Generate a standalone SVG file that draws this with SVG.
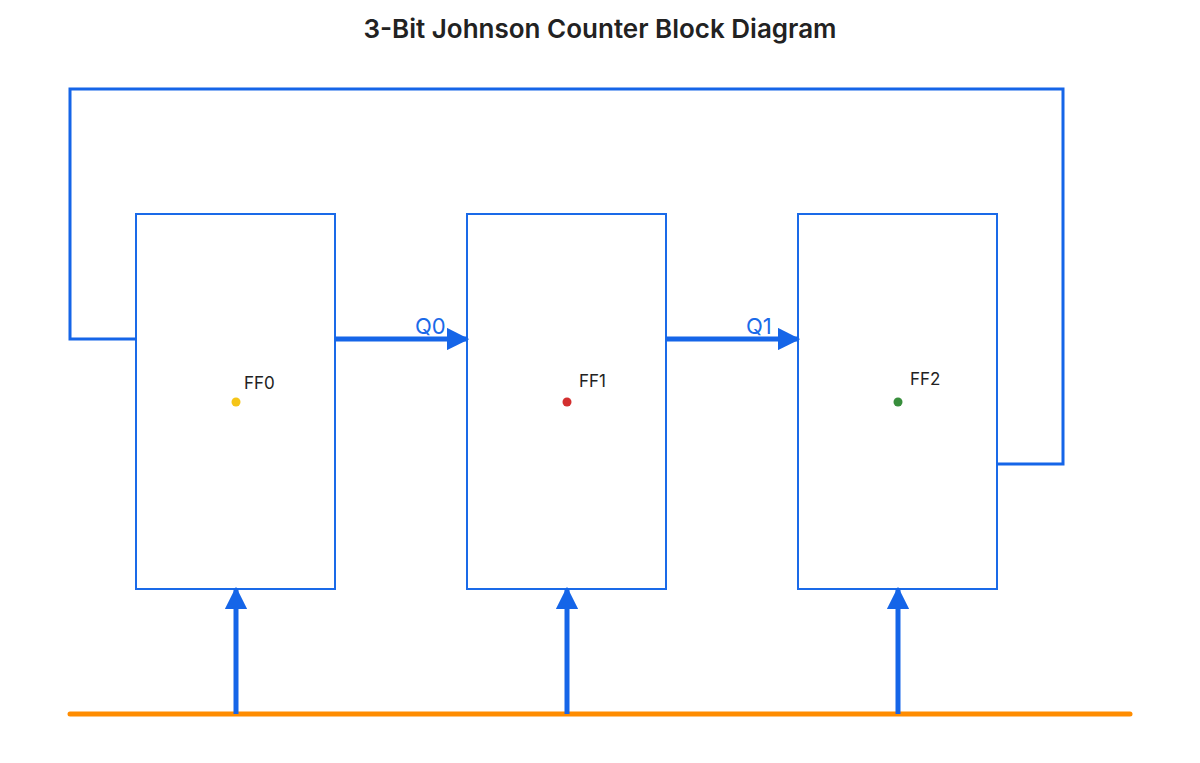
<svg xmlns="http://www.w3.org/2000/svg" width="1200" height="763" viewBox="0 0 1200 763">
<style>
.ff{fill:#fff;stroke:#1a6ae8;stroke-width:2}
.w{fill:none;stroke:#1565e8;stroke-width:3}
.a{fill:none;stroke:#1565e8;stroke-width:5}
.t{font-family:Inter,"Liberation Sans",sans-serif;font-size:17px;fill:#222}
.q{font-family:Inter,"Liberation Sans",sans-serif;font-size:22px;fill:#1a6ae8}
</style>
<defs><marker id="ah" viewBox="0 0 10 10" refX="9" refY="5" markerWidth="4.5" markerHeight="4.5" orient="auto" markerUnits="strokeWidth"><path d="M0,0L10,5L0,10Z" fill="#1565e8"/></marker></defs>
<rect width="1200" height="763" fill="#fff"/>
<text x="600" y="38" text-anchor="middle" font-family="Inter,'Liberation Sans',sans-serif" font-size="26" font-weight="600" fill="#222">3-Bit Johnson Counter Block Diagram</text>
<g id="ff0"><rect class="ff" x="136" y="214" width="199" height="375"/><circle cx="236" cy="402" r="4.5" fill="#f5c518"/><text class="t" x="244" y="389">FF0</text></g>
<g id="ff1"><rect class="ff" x="467" y="214" width="199" height="375"/><circle cx="567" cy="402" r="4.5" fill="#d32f2f"/><text class="t" x="579" y="387">FF1</text></g>
<g id="ff2"><rect class="ff" x="798" y="214" width="199" height="375"/><circle cx="898" cy="402" r="4.5" fill="#388e3c"/><text class="t" x="910" y="385">FF2</text></g>
<g id="connectors">
<path class="w" d="M997,464H1063V89H70V339H136"/>
<path class="a" d="M335,339H467" marker-end="url(#ah)"/>
<path class="a" d="M666,339H798" marker-end="url(#ah)"/>
<text class="q" x="415" y="334">Q0</text>
<text class="q" x="746" y="334">Q1</text>
<line x1="70" y1="714" x2="1130" y2="714" stroke="#ff8c00" stroke-width="5" stroke-linecap="round"/>
<path class="a" d="M236,714V589" marker-end="url(#ah)"/>
<path class="a" d="M567,714V589" marker-end="url(#ah)"/>
<path class="a" d="M898,714V589" marker-end="url(#ah)"/>
</g>
</svg>
